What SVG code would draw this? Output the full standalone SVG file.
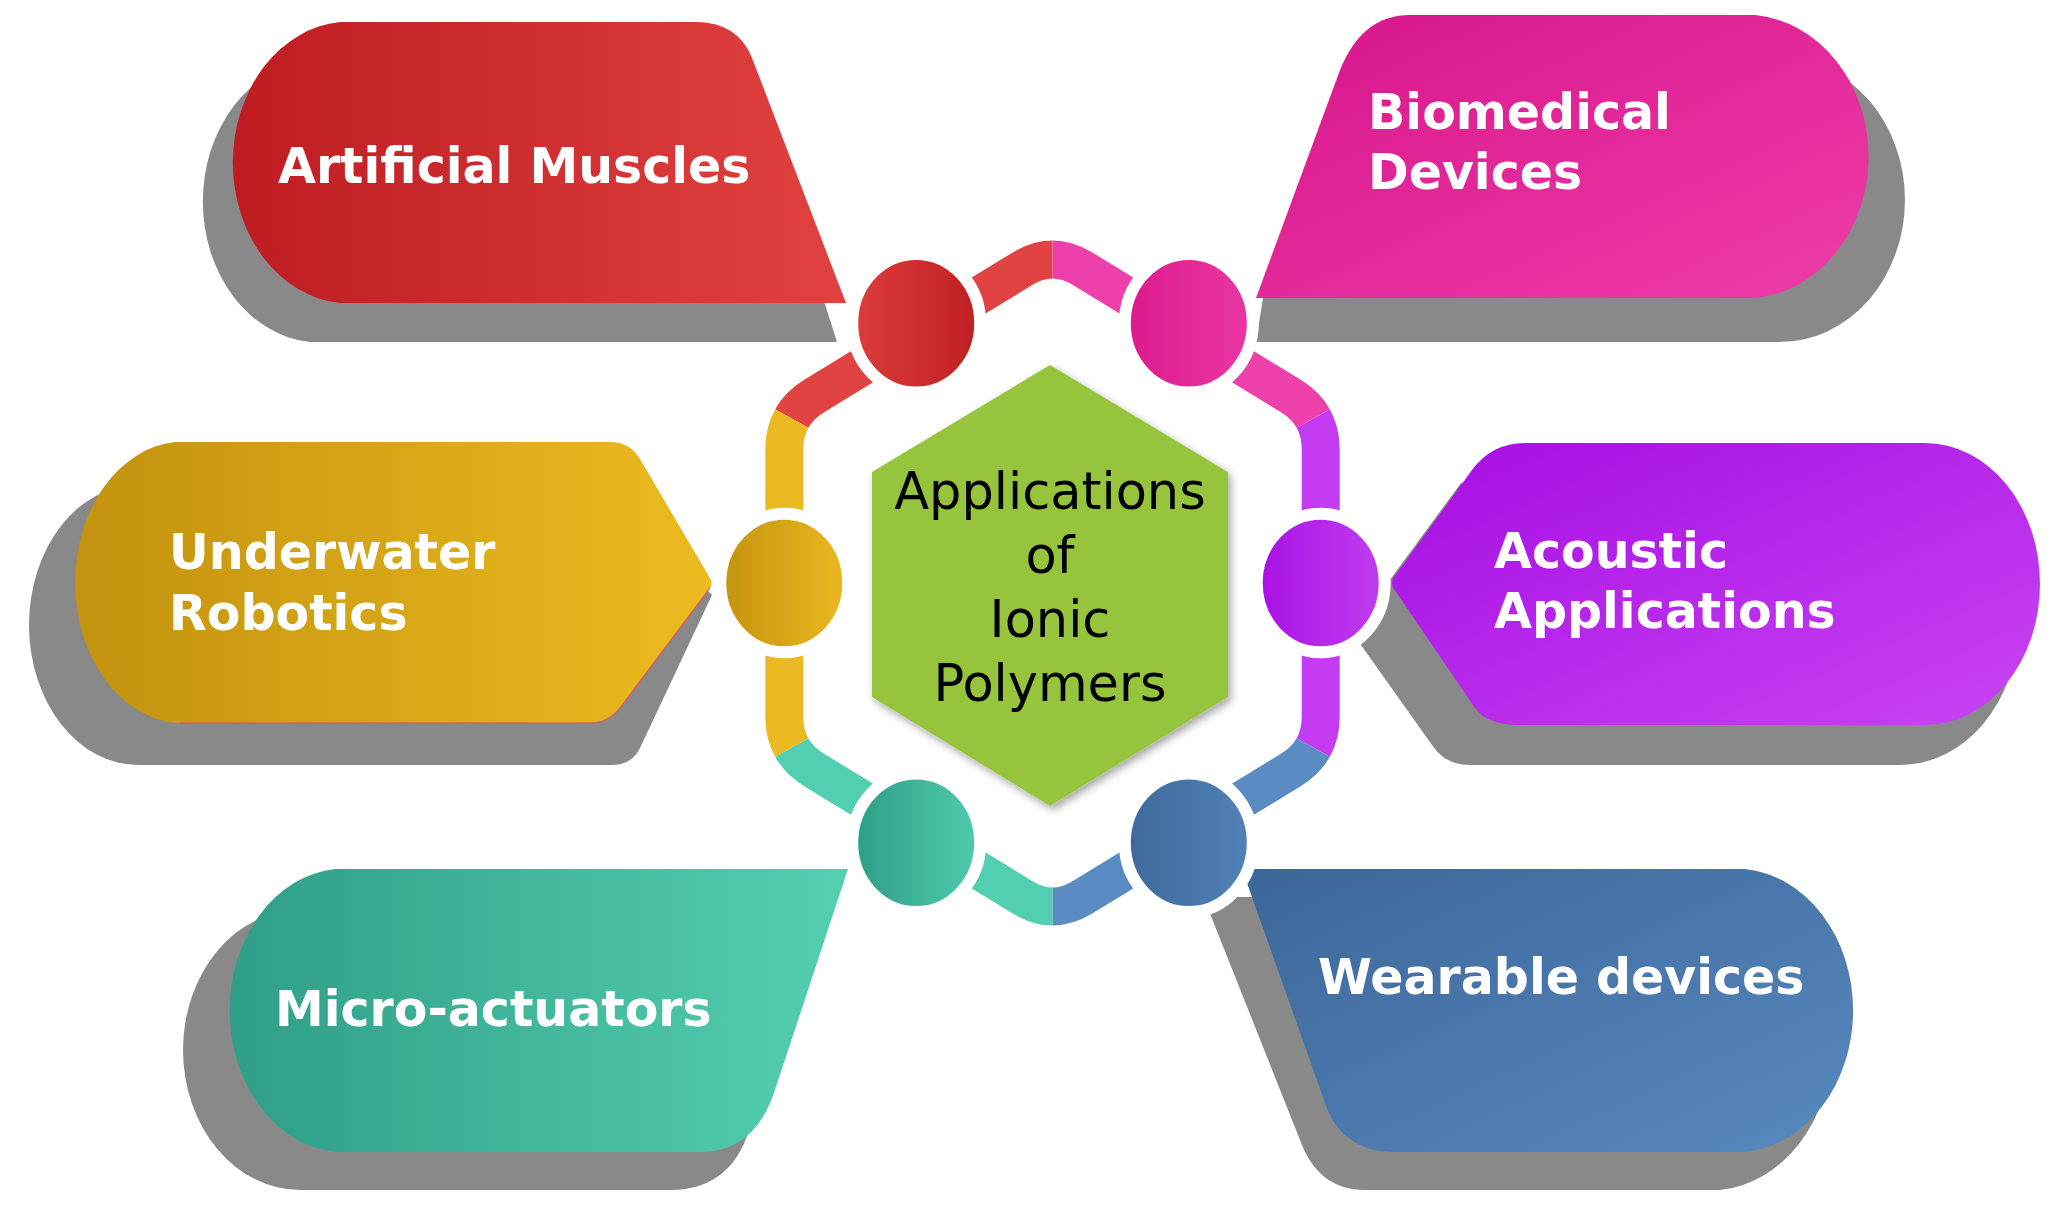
<svg xmlns="http://www.w3.org/2000/svg" width="2061" height="1224" viewBox="0 0 2061 1224">
<defs>
<linearGradient id="gRed" x1="0" y1="0" x2="1" y2="0"><stop offset="0" stop-color="#be1c22"/><stop offset="1" stop-color="#e1423f"/></linearGradient>
<linearGradient id="gPink" x1="0" y1="0" x2="1" y2="1"><stop offset="0" stop-color="#d7158b"/><stop offset="1" stop-color="#ee3da8"/></linearGradient>
<linearGradient id="gYellow" x1="0" y1="0" x2="1" y2="0"><stop offset="0" stop-color="#c3920f"/><stop offset="1" stop-color="#ecbb1f"/></linearGradient>
<linearGradient id="gPurple" x1="0" y1="0" x2="1" y2="1"><stop offset="0" stop-color="#a60ce2"/><stop offset="1" stop-color="#c845f3"/></linearGradient>
<linearGradient id="gTeal" x1="0" y1="0" x2="1" y2="0"><stop offset="0" stop-color="#2f9f87"/><stop offset="1" stop-color="#55cfb1"/></linearGradient>
<linearGradient id="gBlue" x1="0" y1="0" x2="1" y2="1"><stop offset="0" stop-color="#3d6699"/><stop offset="1" stop-color="#5789bf"/></linearGradient>
<linearGradient id="cRed" x1="0" y1="0" x2="1" y2="0"><stop offset="0" stop-color="#dc3c3a"/><stop offset="1" stop-color="#bf1f22"/></linearGradient>
<linearGradient id="cPink" x1="0" y1="0" x2="1" y2="0"><stop offset="0" stop-color="#db1a8d"/><stop offset="1" stop-color="#ea37a3"/></linearGradient>
<linearGradient id="cYellow" x1="0" y1="0" x2="1" y2="0"><stop offset="0" stop-color="#c4930f"/><stop offset="1" stop-color="#ebba20"/></linearGradient>
<linearGradient id="cPurple" x1="0" y1="0" x2="1" y2="0"><stop offset="0" stop-color="#a810e3"/><stop offset="1" stop-color="#c23ef1"/></linearGradient>
<linearGradient id="cTeal" x1="0" y1="0" x2="1" y2="0"><stop offset="0" stop-color="#2d9d85"/><stop offset="1" stop-color="#50ccae"/></linearGradient>
<linearGradient id="cBlue" x1="0" y1="0" x2="1" y2="0"><stop offset="0" stop-color="#3e6899"/><stop offset="1" stop-color="#5283b9"/></linearGradient>
<filter id="hexShadow" x="-20%" y="-20%" width="140%" height="140%"><feDropShadow dx="3" dy="4" stdDeviation="4" flood-color="#000" flood-opacity="0.35"/></filter>
</defs>
<style>
.shadow{fill:#898989}
.label{font-family:"DejaVu Sans","Liberation Sans",sans-serif;font-weight:bold;font-size:49px;fill:#ffffff}
.center{font-family:"DejaVu Sans","Liberation Sans",sans-serif;font-size:51px;fill:#000000;text-anchor:middle}
.ring{fill:none;stroke-width:38;stroke-linecap:butt}
.dot{stroke:#ffffff;stroke-width:12}
</style>
<rect width="2061" height="1224" fill="#ffffff"/>

<g id="connectors">
<path class="ring" stroke="#e04341" d="M 791.77,418.49 Q 799.24,405.18 814.17,396.05 L 1022.63,268.65 Q 1037.57,259.53 1052.5,259.53"/>
<path class="ring" stroke="#ee40aa" d="M 1052.5,259.53 Q 1067.43,259.53 1082.37,268.65 L 1290.83,396.05 Q 1305.77,405.18 1313.24,418.49"/>
<path class="ring" stroke="#c43cf2" d="M 1313.24,418.49 Q 1320.7,431.8 1320.7,449.3 L 1320.7,716.7 Q 1320.7,734.2 1313.24,747.52"/>
<path class="ring" stroke="#5a8cc3" d="M 1313.24,747.52 Q 1305.77,760.83 1290.83,769.95 L 1082.37,897.35 Q 1067.43,906.48 1052.5,906.48"/>
<path class="ring" stroke="#52ceb0" d="M 1052.5,906.48 Q 1037.57,906.48 1022.63,897.35 L 814.17,769.95 Q 799.24,760.83 791.77,747.52"/>
<path class="ring" stroke="#ebb922" d="M 791.77,747.52 Q 784.3,734.2 784.3,716.7 L 784.3,449.3 Q 784.3,431.8 791.77,418.49"/>
</g>

<g id="node-center">
<polygon points="1050,365 1228,472 1228,697 1050,806 872,697 872,472" fill="#96c43d" filter="url(#hexShadow)"/>
<text class="center" x="1050" y="509">Applications</text>
<text class="center" x="1050" y="573">of</text>
<text class="center" x="1050" y="637">Ionic</text>
<text class="center" x="1050" y="701">Polymers</text>
</g>

<g id="node-artificial-muscles">
<path class="shadow" d="M 310,61 L 748,61 L 837,342 L 310,342 A 117 141 0 0 1 310,61 Z"/>
<path fill="url(#gRed)" d="M 340,22 L 695,22 Q 738,22 752,58 L 846,303 L 340,303 A 117 141 0 0 1 340,22 Z"/>
<text class="label" x="278" y="183">Artificial Muscles</text>
<ellipse class="dot" cx="916.2" cy="323.3" rx="64" ry="69.3" fill="url(#cRed)"/>
</g>

<g id="node-biomedical-devices">
<path class="shadow" d="M 1350,58 L 1780,58 A 125 142 0 0 1 1780,342 L 1256,342 L 1263,298 Z"/>
<path fill="url(#gPink)" d="M 1410,15 L 1755,15 A 124 142 0 0 1 1755,298 L 1256,298 L 1340,70 Q 1362,15 1410,15 Z"/>
<text class="label" x="1368" y="129">Biomedical</text>
<text class="label" x="1368" y="189">Devices</text>
<ellipse class="dot" cx="1188.8" cy="323.3" rx="64" ry="69.3" fill="url(#cPink)"/>
</g>

<g id="node-underwater-robotics">
<path class="shadow" d="M 138,485 L 600,485 L 712,595 L 640,748 Q 632,765 612,765 L 138,765 A 109 140 0 0 1 138,485 Z"/>
<path fill="url(#gYellow)" d="M 175,442 L 610,442 Q 630,442 640,459 L 710,578 Q 713,583 710,588 L 620,708 Q 608,723 590,723 L 175,723 A 109 141 0 0 1 175,442 Z"/>
<path fill="none" stroke="#d8506a" stroke-width="1.5" opacity="0.7" d="M 710,588 L 620,708 Q 608,723 590,723 L 180,723"/>
<text class="label" x="169" y="569">Underwater</text>
<text class="label" x="169" y="630">Robotics</text>
<ellipse class="dot" cx="784.3" cy="583" rx="64" ry="69.3" fill="url(#cYellow)"/>
</g>

<g id="node-acoustic-applications">
<path class="shadow" d="M 1461,483 L 1900,483 A 118 141 0 0 1 1900,765 L 1470,765 Q 1445,765 1432,745 L 1356,638 Q 1352,632 1356,626 Z"/>
<path fill="url(#gPurple)" d="M 1525,443 L 1925,443 A 115 141 0 0 1 1925,725 L 1520,725 Q 1487,725 1475,708 L 1394,589 Q 1390,583 1394,577 L 1472,470 Q 1492,443 1525,443 Z"/>
<text class="label" x="1494" y="568">Acoustic</text>
<text class="label" x="1494" y="628">Applications</text>
<ellipse class="dot" cx="1320.7" cy="583" rx="64" ry="69.3" fill="url(#cPurple)"/>
</g>

<g id="node-micro-actuators">
<path class="shadow" d="M 300,910 L 812,910 L 752,1120 Q 735,1190 670,1190 L 300,1190 A 117 140 0 0 1 300,910 Z"/>
<path fill="url(#gTeal)" d="M 335,869 L 848,869 L 775,1090 Q 755,1152 700,1152 L 335,1152 A 115 142 0 0 1 335,869 Z"/>
<text class="label" x="275" y="1026">Micro-actuators</text>
<ellipse class="dot" cx="916.2" cy="842.7" rx="64" ry="69.3" fill="url(#cTeal)"/>
</g>

<g id="node-wearable-devices">
<path class="shadow" d="M 1214,897 L 1720,897 A 122 147 0 0 1 1720,1190 L 1365,1190 Q 1318,1190 1300,1140 L 1207,906 Q 1205,897 1214,897 Z"/>
<path fill="url(#gBlue)" d="M 1242,869 L 1745,869 A 118 142 0 0 1 1745,1152 L 1395,1152 Q 1340,1152 1324,1100 Z"/>
<text class="label" x="1318" y="994">Wearable devices</text>
<ellipse class="dot" cx="1188.8" cy="842.7" rx="64" ry="69.3" fill="url(#cBlue)"/>
</g>
</svg>
